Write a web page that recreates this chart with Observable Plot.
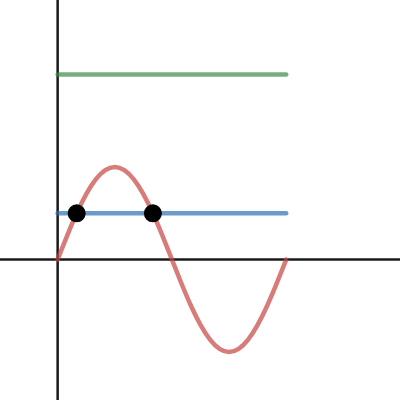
<!DOCTYPE html>
<html>
<head>
<meta charset="utf-8">
<script src="https://cdn.jsdelivr.net/npm/d3@7"></script>
<script src="https://cdn.jsdelivr.net/npm/@observablehq/plot@0.6"></script>
<style>
  html, body { margin: 0; padding: 0; background: #fff; }
  #chart svg { display: block; }
</style>
</head>
<body>
<div id="chart"></div>
<script>
// x positions in twelfths of pi (0 .. 2pi)
const curveSteps = [0,1,2,3,4,5,6,7,8,9,10,11,12,13,14,15,16,17,18,19,20,21,22,23,24];
// red curve: y = sin(x), values read at each step
const curveValues = [0, 0.2588, 0.5, 0.7071, 0.8660, 0.9659, 1, 0.9659, 0.8660, 0.7071, 0.5, 0.2588, 0,
  -0.2588, -0.5, -0.7071, -0.8660, -0.9659, -1, -0.9659, -0.8660, -0.7071, -0.5, -0.2588, 0];
// horizontal lines spanning 0 .. 24 twelfths of pi
const lineSpan = [0, 24];
const blueLevel = 0.5;
const greenLevel = 2;
// intersection points (twelfths of pi)
const pointSteps = [2, 10];

const toX = k => k * Math.PI / 12;
const curveData = curveSteps.map((k, i) => ({x: toX(k), y: curveValues[i]}));
const blueData = lineSpan.map(k => ({x: toX(k), y: blueLevel}));
const greenData = lineSpan.map(k => ({x: toX(k), y: greenLevel}));
const pointData = pointSteps.map(k => ({x: toX(k), y: blueLevel}));

const chart = Plot.plot({
  width: 400,
  height: 400,
  margin: 0,
  style: {background: "#fff"},
  x: {domain: [-Math.PI / 2, 3 * Math.PI], axis: null},
  y: {domain: [-1.524, 2.8], axis: null},
  marks: [
    Plot.ruleX([0], {stroke: "#1a1a1a", strokeWidth: 2.5}),
    Plot.ruleY([0], {stroke: "#1a1a1a", strokeWidth: 2.5}),
    Plot.line(greenData, {x: "x", y: "y", stroke: "#388c46", strokeOpacity: 0.7, strokeWidth: 4.5, strokeLinecap: "round"}),
    Plot.line(blueData, {x: "x", y: "y", stroke: "#2d70b3", strokeOpacity: 0.7, strokeWidth: 4.5, strokeLinecap: "round"}),
    Plot.line(curveData, {x: "x", y: "y", curve: "natural", stroke: "#c74440", strokeOpacity: 0.7, strokeWidth: 4.5, strokeLinecap: "round", strokeLinejoin: "round"}),
    Plot.dot(pointData, {x: "x", y: "y", r: 9, fill: "#000", stroke: "none"})
  ]
});
document.getElementById("chart").appendChild(chart);
</script>
</body>
</html>
